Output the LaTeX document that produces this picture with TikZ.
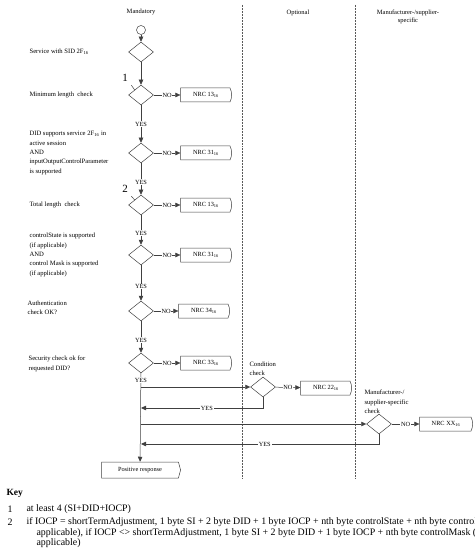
\documentclass[tikz,border=0pt]{standalone}
\usepackage{fontspec}
\setmainfont{Liberation Serif}
\usetikzlibrary{shapes.geometric,shapes.misc,shapes.symbols,arrows.meta}
\tikzset{
  dec/.style={diamond,draw,minimum width=25pt,minimum height=20pt,inner sep=0pt},
  nrc/.style={rounded rectangle,rounded rectangle left arc=none,rounded rectangle arc length=50,
    draw,minimum width=53pt,minimum height=14pt,inner sep=1pt,font=\fontsize{6.3}{7}\selectfont},
  cond/.style={anchor=west,align=left,font=\fontsize{6.6}{9.3}\selectfont},
  tag/.style={fill=white,inner sep=0.8pt,font=\fontsize{6.3}{7}\selectfont},
  flow/.style={-{Triangle[length=5pt,width=4.5pt]}},
  lane/.style={densely dotted,gray!70!black},
}
\begin{document}
\begin{tikzpicture}[x=1pt,y=-1pt,line width=0.5pt,draw=black!75]
  \useasboundingbox (0,0) rectangle (474,548);
  \clip (0,0) rectangle (474,548);

  % lanes
  \draw[lane] (242,5) -- (242,478);
  \draw[lane] (355,5) -- (355,478);
  \node[font=\fontsize{6.5}{8}\selectfont] (mand) at (141,12) {Mandatory};
  \node[font=\fontsize{6.5}{8}\selectfont] (opt) at (298,13) {Optional};
  \node[font=\fontsize{6.5}{8}\selectfont,align=center] (manu) at (408,17) {Manufacturer-/supplier-\\specific};

  % decisions
  \node[circle,draw,minimum size=9pt,inner sep=0pt] (start) at (141,30) {};
  \node[dec] (sid) at (141,52) {};
  \node[dec] (minlen) at (141,95) {};
  \node[dec] (didsup) at (141,153) {};
  \node[dec] (totlen) at (141,205) {};
  \node[dec] (ctrl) at (141,255) {};
  \node[dec] (auth) at (141,311) {};
  \node[dec] (sec) at (141,363) {};
  \node[dec] (condchk) at (263,387) {};
  \node[dec] (manuchk) at (379,424) {};

  % texts left
  \node[cond] (tsid) at (26,52) {Service with SID 2F\textsubscript{16}};
  \node[cond] (tminlen) at (26,95) {Minimum length\ \ check};
  \node[cond] (tdidsup) at (26,153) {DID supports service 2F\textsubscript{16} in\\active session\\AND\\inputOutputControlParameter\\is supported};
  \node[cond] (ttotlen) at (26,205) {Total length\ \ check};
  \node[cond] (tctrl) at (26,255) {controlState is supported\\(if applicable)\\AND\\control Mask is supported\\(if applicable)};
  \node[cond] (tauth) at (24,308) {Authentication\\check OK?};
  \node[cond] (tsec) at (25,364) {Security check ok for\\requested DID?};
  \node[cond] (tcondchk) at (246,369) {Condition\\check};
  \node[cond] (tmanuchk) at (361,402) {Manufacturer-/\\supplier-specific\\check};

  % key numbers
  \node[font=\fontsize{11}{12}\selectfont] (k1) at (125,78) {1};
  \node[font=\fontsize{11}{12}\selectfont] (k2) at (125,189) {2};
  \draw (k1.south east) -- (minlen.north west);
  \draw (k2.south east) -- (totlen.north west);

  % negative responses
  \node[nrc] (nrc1) at (206,95) {NRC 13\textsubscript{16}};
  \node[nrc] (nrc2) at (206,153) {NRC 31\textsubscript{16}};
  \node[nrc] (nrc3) at (206,205) {NRC 13\textsubscript{16}};
  \node[nrc] (nrc4) at (206,255) {NRC 31\textsubscript{16}};
  \node[nrc] (nrc5) at (204,311) {NRC 34\textsubscript{16}};
  \node[nrc] (nrc6) at (206,363) {NRC 33\textsubscript{16}};
  \node[nrc] (nrc7) at (326,388) {NRC 22\textsubscript{16}};
  \node[nrc,minimum width=55pt] (nrc8) at (446,424) {NRC XX\textsubscript{16}};

  \node[signal,signal to=east,signal pointer angle=150,draw,minimum width=79pt,minimum height=16pt,
    font=\fontsize{6.3}{7}\selectfont] (pos) at (140,470) {Positive response};

  % main flow
  \draw[flow] (start) -- (sid);
  \draw[flow] (sid) -- (minlen);
  \draw[flow] (minlen) -- node[tag] {YES} (didsup);
  \draw[flow] (didsup) -- node[tag,pos=0.6] {YES} (totlen);
  \draw[flow] (totlen) -- node[tag,pos=0.6] {YES} (ctrl);
  \draw[flow] (ctrl) -- node[tag,pos=0.6] {YES} (auth);
  \draw[flow] (auth) -- node[tag,pos=0.6] {YES} (sec);
  \draw[flow] (sec) -- node[tag,pos=0.08] {YES} (pos);

  \draw[flow] (minlen) -- node[tag] {NO} (nrc1);
  \draw[flow] (didsup) -- node[tag] {NO} (nrc2);
  \draw[flow] (totlen) -- node[tag] {NO} (nrc3);
  \draw[flow] (ctrl) -- node[tag] {NO} (nrc4);
  \draw[flow] (auth) -- node[tag] {NO} (nrc5);
  \draw[flow] (sec) -- node[tag] {NO} (nrc6);
  \draw[flow] (condchk) -- node[tag] {NO} (nrc7);
  \draw[flow] (manuchk) -- node[tag] {NO} (nrc8);

  % optional branches
  \coordinate (b1) at (141,387);
  \coordinate (r1) at (141,408);
  \coordinate (b2) at (141,424);
  \coordinate (r2) at (141,444);
  \draw[flow] (b1) -- (condchk.west);
  \draw[flow] (condchk.south) |- node[tag,pos=0.73] {YES} (r1);
  \draw[flow] (b2) -- (manuchk.west);
  \draw[flow] (manuchk.south) |- node[tag,pos=0.74] {YES} (r2);

  % key
  \node[anchor=west,font=\fontsize{9.5}{11}\bfseries] (key) at (3,493) {Key};
  \begin{scope}[font=\fontsize{9.9}{11}\selectfont]
    \node[anchor=west] (n1) at (4,509) {1};
    \node[anchor=west] (e1) at (23,509) {at least 4 (SI+DID+IOCP)};
    \node[anchor=west] (n2) at (4,522) {2};
    \node[anchor=west] (e2) at (23,522) {if IOCP = shortTermAdjustment, 1 byte SI + 2 byte DID + 1 byte IOCP + nth byte controlState + nth byte controlMask (if};
    \node[anchor=west] (e3) at (33,533) {applicable), if IOCP <> shortTermAdjustment, 1 byte SI + 2 byte DID + 1 byte IOCP + nth byte controlMask (if};
    \node[anchor=west] (e4) at (33,543) {applicable)};
  \end{scope}
\end{tikzpicture}
\end{document}
